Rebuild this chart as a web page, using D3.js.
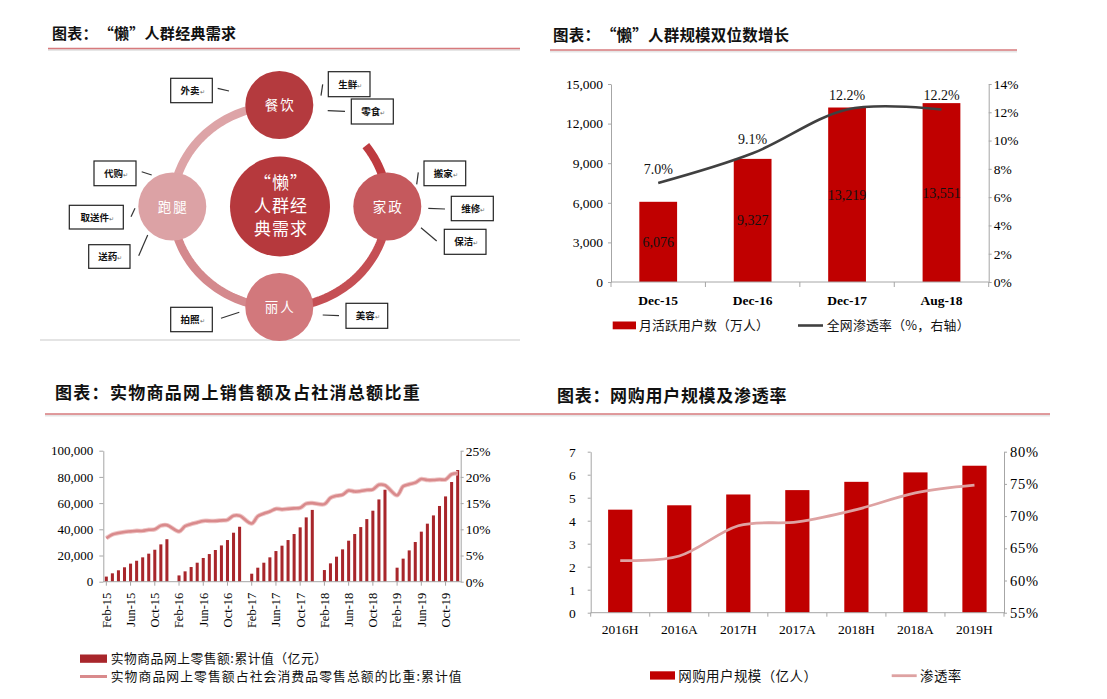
<!DOCTYPE html>
<html><head><meta charset="utf-8">
<script src="https://cdn.jsdelivr.net/npm/d3@7"></script>
<style>body{margin:0;background:#fff}svg{display:block}</style>
</head><body>
<script>
// ================= DATA =================
const panelTitles = ["图表：", "“懒”人群经典需求", "图表：", "“懒”人群规模双位数增长", "图表：实物商品网上销售额及占社消总额比重", "图表：网购用户规模及渗透率"];

// Panel 1: diagram
const demandCenter = ["“懒”", "人群经", "典需求"];
const demandHubs = ["餐饮", "家政", "丽人", "跑腿"];
const demandItems = ["外卖", "生鲜", "零食", "搬家", "维修", "保洁", "美容", "拍照", "代购", "取送件", "送药"];

// Panel 2: lazy-economy users
const mauCats = ["Dec-15", "Dec-16", "Dec-17", "Aug-18"];
const mauUsers = [6076, 9327, 13219, 13551];
const mauPenetration = [0.070, 0.091, 0.122, 0.122];
const mauLeftTicks = [0, 3000, 6000, 9000, 12000, 15000];
const mauRightTicks = [0, 0.02, 0.04, 0.06, 0.08, 0.10, 0.12, 0.14];
const mauLegend = ["月活跃用户数（万人）", "全网渗透率（%，右轴）"];

// Panel 3: online retail of physical goods (cumulative, 亿元) Feb..Dec each year
const salesYears = ["15", "16", "17", "18", "19"];
const salesMonthNames = ["Feb", "Mar", "Apr", "May", "Jun", "Jul", "Aug", "Sep", "Oct", "Nov", "Dec"];
const sales2015 = [3900, 6400, 8700, 11000, 13800, 16000, 18600, 21400, 24400, 28500, 32424];
const sales2016 = [4800, 7900, 11200, 14500, 18100, 21100, 24200, 27700, 31800, 37400, 41944];
const sales2017 = [6100, 10700, 14500, 18600, 23400, 27500, 31800, 36400, 41500, 49100, 54806];
const sales2018 = [8900, 14000, 19100, 24700, 31300, 36400, 41700, 47800, 54200, 62800, 70198];
const sales2019 = [10700, 17600, 23900, 30300, 38200, 44300, 50600, 57800, 65100, 76100, 85239];
const share2015 = [0.083, 0.090, 0.093, 0.095, 0.096, 0.097, 0.097, 0.099, 0.100, 0.107, 0.108];
const share2016 = [0.096, 0.106, 0.110, 0.113, 0.116, 0.116, 0.116, 0.117, 0.118, 0.126, 0.126];
const share2017 = [0.111, 0.125, 0.130, 0.134, 0.139, 0.138, 0.139, 0.140, 0.141, 0.149, 0.150];
const share2018 = [0.148, 0.160, 0.164, 0.166, 0.174, 0.172, 0.173, 0.175, 0.176, 0.185, 0.184];
const share2019 = [0.165, 0.182, 0.186, 0.189, 0.196, 0.194, 0.194, 0.195, 0.195, 0.205, 0.207];
const salesTickLabels = ["Feb-15", "Jun-15", "Oct-15", "Feb-16", "Jun-16", "Oct-16", "Feb-17", "Jun-17", "Oct-17", "Feb-18", "Jun-18", "Oct-18", "Feb-19", "Jun-19", "Oct-19"];
const salesLeftTicks = [0, 20000, 40000, 60000, 80000, 100000];
const salesRightTicks = [0, 0.05, 0.10, 0.15, 0.20, 0.25];
const salesLegend = ["实物商品网上零售额:累计值（亿元）", "实物商品网上零售额占社会消费品零售总额的比重:累计值"];

// Panel 4: online shopping users
const shopCats = ["2016H", "2016A", "2017H", "2017A", "2018H", "2018A", "2019H"];
const shopUsers = [4.48, 4.67, 5.14, 5.33, 5.69, 6.10, 6.39];
const shopPenetration = [0.631, 0.638, 0.685, 0.691, 0.710, 0.736, 0.748];
const shopLeftTicks = [0, 1, 2, 3, 4, 5, 6, 7];
const shopRightTicks = [0.55, 0.60, 0.65, 0.70, 0.75, 0.80];
const shopLegend = ["网购用户规模（亿人）", "渗透率"];

// ================= LAYOUT / STYLE =================
const CJK = '"Noto Sans CJK SC", "Noto Sans", sans-serif';
const SERIF = '"Liberation Serif", "DejaVu Serif", serif';
const AXIS = '#a6a6a6';
const RED = '#c00000';

const svg = d3.select('body').append('svg').attr('width', 1107).attr('height', 699)
  .style('background', '#fff');

// ---- titles ----
function title(x, y, parts, fs, ls) {
  const t = svg.append('text').attr('x', x).attr('y', y).attr('font-family', CJK)
    .attr('font-weight', 700).attr('font-size', fs).attr('fill', '#111').attr('letter-spacing', ls);
  parts.forEach((p, i) => t.append('tspan').attr('dx', i ? fs * 0.55 : 0).text(p));
}
title(52, 39, [panelTitles[0], panelTitles[1]], 15, 0.3);
title(553, 40.5, [panelTitles[2], panelTitles[3]], 15.5, 0.2);
title(55, 399, [panelTitles[4]], 17, 1.3);
title(557, 402, [panelTitles[5]], 17, 0.7);

function rule(x1, x2, y) {
  svg.append('line').attr('x1', x1).attr('x2', x2).attr('y1', y + 1.5).attr('y2', y + 1.5)
    .attr('stroke', '#e6e6e6').attr('stroke-width', 2);
  svg.append('line').attr('x1', x1).attr('x2', x2).attr('y1', y).attr('y2', y)
    .attr('stroke', '#d77a7c').attr('stroke-width', 1.5);
}
rule(48, 520, 48.5);
rule(550, 1017, 50);
rule(45, 1050, 414);

function styleAxis(g, fs, weight) {
  g.select('.domain').attr('stroke', AXIS).attr('stroke-width', 1);
  g.selectAll('.tick line').attr('stroke', AXIS);
  g.selectAll('text').attr('font-family', SERIF).attr('font-size', fs).attr('fill', '#000')
    .attr('font-weight', weight || 400);
}

// ================= PANEL 1: diagram =================
(function () {
  const cx = 280, cy = 206.5, rx = 107.5, ry = 101;
  const g = svg.append('g');
  g.append('line').attr('x1', 40).attr('x2', 520).attr('y1', 340).attr('y2', 340)
    .attr('stroke', '#e4e4e4').attr('stroke-width', 2);
  const arcPts = (a0, a1) => d3.range(0, 61).map(i => {
    const t = (a0 + (a1 - a0) * i / 60) * Math.PI / 180;
    return [cx + rx * Math.sin(t), cy - ry * Math.cos(t)];
  });
  const line = d3.line();
  const arcs = [[-90, 0, '#dda4a7'], [180, 270, '#d4898d'], [53, 92, '#be3b40'], [92, 180, '#c54f54']];
  arcs.forEach(a => g.append('path').attr('d', line(arcPts(a[0], a[1]))).attr('fill', 'none')
    .attr('stroke', a[2]).attr('stroke-width', 8.5));

  g.append('circle').attr('cx', cx).attr('cy', cy).attr('r', 50).attr('fill', '#b6393d');
  const ct = g.append('text').attr('font-family', CJK).attr('font-size', 17).attr('fill', '#fff')
    .attr('text-anchor', 'middle').attr('letter-spacing', 1);
  demandCenter.forEach((s, i) => ct.append('tspan').attr('x', cx + 1).attr('y', 189 + i * 23).text(s));

  const hubPos = [[279.3, 105], [387.3, 206.5], [279.3, 307], [172.3, 206.5]];
  const hubFill = ['#b43a3e', '#c5595d', '#d2787c', '#dca2a5'];
  demandHubs.forEach((h, i) => {
    g.append('circle').attr('cx', hubPos[i][0]).attr('cy', hubPos[i][1]).attr('r', 34).attr('fill', hubFill[i]);
    g.append('text').attr('x', hubPos[i][0] + 1).attr('y', hubPos[i][1] + 5).attr('text-anchor', 'middle')
      .attr('font-family', CJK).attr('font-size', 13.5).attr('letter-spacing', 2).attr('fill', '#fff').text(h);
  });

  const boxLayout = [
    [170.7, 78.3, 41.6, 24.4, 217.7, 88.3, 229, 91],
    [328.3, 71.7, 41.7, 25, 322.7, 84.3, 321, 95.7],
    [351.3, 99, 42, 25, 327.7, 110.7, 345, 111.3],
    [424, 161, 41.7, 24.7, 418.3, 172.3, 416.7, 184.3],
    [451.3, 196.3, 42, 24.4, 428.3, 208.3, 445, 209],
    [444.3, 229.3, 41.7, 25, 421, 227.7, 436.7, 241],
    [346, 303.3, 41.7, 25, 322.7, 315, 339, 315.7],
    [170.7, 307.3, 41.6, 24.4, 221, 318.3, 239.3, 312.3],
    [94, 161, 42, 24.7, 141.7, 171.7, 151.7, 175],
    [69.3, 205.3, 54, 23.7, 135, 208.3, 131, 216.7],
    [88.7, 244.7, 41.3, 23.6, 147.7, 235, 138.7, 255.7]
  ];
  demandItems.forEach((s, i) => {
    const b = boxLayout[i];
    g.append('rect').attr('x', b[0]).attr('y', b[1]).attr('width', b[2]).attr('height', b[3])
      .attr('fill', '#fff').attr('stroke', '#222').attr('stroke-width', 1.2);
    g.append('line').attr('x1', b[4]).attr('y1', b[5]).attr('x2', b[6]).attr('y2', b[7])
      .attr('stroke', '#333').attr('stroke-width', 1.2);
    const t = g.append('text').attr('x', b[0] + b[2] / 2 + 1).attr('y', b[1] + b[3] / 2 + 3.5)
      .attr('text-anchor', 'middle').attr('font-family', CJK).attr('font-weight', 700)
      .attr('font-size', 9.5).attr('fill', '#111');
    t.append('tspan').text(s);
    t.append('tspan').attr('font-size', 6).attr('font-weight', 400).attr('fill', '#666').text('↵');
  });
})();

// ================= PANEL 2 =================
(function () {
  const L = 611, R = 988.7, T = 84, B = 282;
  const x = d3.scaleBand().domain(mauCats).range([L, R]).paddingInner(0.6).paddingOuter(0.3);
  const yL = d3.scaleLinear().domain([0, 15000]).range([B, T]);
  const yR = d3.scaleLinear().domain([0, 0.14]).range([B, T]);
  const g = svg.append('g');

  g.selectAll('rect.bar').data(mauCats).join('rect').attr('class', 'bar')
    .attr('x', d => x(d)).attr('width', x.bandwidth())
    .attr('y', (d, i) => yL(mauUsers[i])).attr('height', (d, i) => B - yL(mauUsers[i]))
    .attr('fill', RED);

  const ga = g.append('g').attr('transform', `translate(${L},0)`)
    .call(d3.axisLeft(yL).tickValues(mauLeftTicks).tickFormat(d3.format(',')).tickSize(3).tickSizeOuter(0).tickPadding(5));
  styleAxis(ga, 13.5);
  const gr = g.append('g').attr('transform', `translate(${R},0)`)
    .call(d3.axisRight(yR).tickValues(mauRightTicks).tickFormat(d3.format('.0%')).tickSize(3).tickSizeOuter(0).tickPadding(2));
  styleAxis(gr, 13.5);
  const gx = g.append('g').attr('transform', `translate(0,${B})`)
    .call(d3.axisBottom(x).tickSize(0).tickPadding(13).tickSizeOuter(0));
  styleAxis(gx, 13.5, 700);
  gx.select('.domain').attr('d', `M${L},0H${R}`);
  const bounds = mauCats.map(c => x(c) - x.step() * 0.3).concat([R]);
  g.selectAll('line.xt').data(bounds).join('line').attr('x1', d => d).attr('x2', d => d)
    .attr('y1', B).attr('y2', B + 5).attr('stroke', AXIS);

  const cx = (d) => x(d) + x.bandwidth() / 2;
  g.selectAll('text.bl').data(mauCats).join('text')
    .attr('x', d => cx(d)).attr('y', (d, i) => (B + yL(mauUsers[i])) / 2 + 5)
    .attr('text-anchor', 'middle').attr('font-family', SERIF).attr('font-size', 14).attr('fill', '#111')
    .text((d, i) => d3.format(',')(mauUsers[i]));

  const ln = d3.line().x((d, i) => cx(mauCats[i])).y(d => yR(d)).curve(d3.curveCardinal.tension(0));
  g.append('path').attr('d', ln(mauPenetration)).attr('fill', 'none').attr('stroke', '#404040').attr('stroke-width', 2.6);
  g.selectAll('text.pl').data(mauCats).join('text')
    .attr('x', d => cx(d)).attr('y', (d, i) => yR(mauPenetration[i]) - 9)
    .attr('text-anchor', 'middle').attr('font-family', SERIF).attr('font-size', 14).attr('fill', '#111')
    .text((d, i) => d3.format('.1%')(mauPenetration[i]));

  g.append('rect').attr('x', 612.7).attr('y', 321.5).attr('width', 23.3).attr('height', 7.8).attr('fill', RED);
  g.append('text').attr('x', 639).attr('y', 330).attr('font-family', CJK).attr('font-size', 12.8)
    .attr('fill', '#111').attr('letter-spacing', 0.2).text(mauLegend[0]);
  g.append('line').attr('x1', 798).attr('x2', 823).attr('y1', 325.5).attr('y2', 325.5)
    .attr('stroke', '#404040').attr('stroke-width', 2.6);
  g.append('text').attr('x', 826.7).attr('y', 330).attr('font-family', CJK).attr('font-size', 12.8)
    .attr('fill', '#111').attr('letter-spacing', 0.3).text(mauLegend[1]);
})();

// ================= PANEL 3 =================
(function () {
  const salesByYear = [sales2015, sales2016, sales2017, sales2018, sales2019];
  const shareByYear = [share2015, share2016, share2017, share2018, share2019];
  const rows = [];
  salesYears.forEach((yy, yi) => {
    salesMonthNames.forEach((m, mi) => rows.push({ cat: `${m}-${yy}`, v: salesByYear[yi][mi], s: shareByYear[yi][mi] }));
    if (yi < salesYears.length - 1) rows.push({ cat: `Jan-${salesYears[yi + 1]}`, v: null, s: null });
  });

  const L = 103.3, R = 460.7, T = 450.7, B = 581.7;
  const x = d3.scaleBand().domain(rows.map(r => r.cat)).range([L, R]).paddingInner(0.5).paddingOuter(0.25);
  const yL = d3.scaleLinear().domain([0, 100000]).range([B, T]);
  const yR = d3.scaleLinear().domain([0, 0.25]).range([B, T]);
  const g = svg.append('g');

  const ga = g.append('g').attr('transform', `translate(${L},0)`)
    .call(d3.axisLeft(yL).tickValues(salesLeftTicks).tickFormat(d3.format(',')).tickSize(4).tickSizeOuter(0).tickPadding(6));
  styleAxis(ga, 13);
  const gr = g.append('g').attr('transform', `translate(${R},0)`)
    .call(d3.axisRight(yR).tickValues(salesRightTicks).tickFormat(d3.format('.0%')).tickSize(3).tickSizeOuter(0).tickPadding(2));
  styleAxis(gr, 13.5);

  g.selectAll('rect.bar').data(rows.filter(r => r.v != null)).join('rect').attr('class', 'bar')
    .attr('x', d => x(d.cat)).attr('width', x.bandwidth())
    .attr('y', d => yL(d.v)).attr('height', d => B - yL(d.v))
    .attr('fill', '#a8262b');

  const gx = g.append('g').attr('transform', `translate(0,${B})`)
    .call(d3.axisBottom(x).tickValues(salesTickLabels).tickSize(4).tickSizeOuter(0));
  styleAxis(gx, 12.5);
  gx.select('.domain').attr('d', `M${L},0H${R}`);
  gx.selectAll('.tick text').attr('text-anchor', 'end').attr('transform', 'rotate(-90)')
    .attr('x', -11).attr('y', 0).attr('dy', '0.35em');

  const ln = d3.line().x(d => x(d.cat) + x.bandwidth() / 2).y(d => yR(d.s)).curve(d3.curveCatmullRom.alpha(0.5));
  const pts = rows.filter(r => r.s != null);
  g.append('path').attr('d', ln(pts)).attr('fill', 'none')
    .attr('stroke', '#efc6c6').attr('stroke-width', 4.5).attr('stroke-linejoin', 'round');
  g.append('path').attr('d', ln(pts)).attr('fill', 'none')
    .attr('stroke', '#d98a8c').attr('stroke-width', 2.6).attr('stroke-linejoin', 'round');

  g.append('rect').attr('x', 80).attr('y', 654.5).attr('width', 27).attr('height', 8.3).attr('fill', '#a8262b');
  g.append('text').attr('x', 110.7).attr('y', 662.5).attr('font-family', CJK).attr('font-size', 12.8)
    .attr('fill', '#111').attr('letter-spacing', 0.5).text(salesLegend[0]);
  g.append('line').attr('x1', 80).attr('x2', 107).attr('y1', 676.5).attr('y2', 676.5)
    .attr('stroke', '#d98a8c').attr('stroke-width', 3);
  g.append('text').attr('x', 110.7).attr('y', 681.3).attr('font-family', CJK).attr('font-size', 12.8)
    .attr('fill', '#111').attr('letter-spacing', 1.1).text(salesLegend[1]);
})();

// ================= PANEL 4 =================
(function () {
  const L = 590.7, R = 1004, T = 451.7, B = 612.7;
  const x = d3.scaleBand().domain(shopCats).range([L, R]).paddingInner(0.59).paddingOuter(0.295);
  const yL = d3.scaleLinear().domain([0, 7]).range([B, T]);
  const yR = d3.scaleLinear().domain([0.55, 0.80]).range([B, T]);
  const g = svg.append('g');

  g.selectAll('rect.bar').data(shopCats).join('rect').attr('class', 'bar')
    .attr('x', d => x(d)).attr('width', x.bandwidth())
    .attr('y', (d, i) => yL(shopUsers[i])).attr('height', (d, i) => B - yL(shopUsers[i]))
    .attr('fill', RED);

  const ga = g.append('g').attr('transform', `translate(${L},0)`)
    .call(d3.axisLeft(yL).tickValues(shopLeftTicks).tickFormat(d3.format('d')).tickSize(3).tickSizeOuter(0).tickPadding(12));
  styleAxis(ga, 13.5);
  const gr = g.append('g').attr('transform', `translate(${R},0)`)
    .call(d3.axisRight(yR).tickValues(shopRightTicks).tickFormat(d3.format('.0%')).tickSize(3).tickSizeOuter(0).tickPadding(3));
  styleAxis(gr, 14.5);
  gr.selectAll('text').attr('letter-spacing', 0.8);
  const gx = g.append('g').attr('transform', `translate(0,${B})`)
    .call(d3.axisBottom(x).tickSize(0).tickPadding(12).tickSizeOuter(0));
  styleAxis(gx, 13.5);
  gx.select('.domain').attr('d', `M${L},0H${R}`);
  const bounds = shopCats.map(c => x(c) - x.step() * 0.295).concat([R]);
  g.selectAll('line.xt').data(bounds).join('line').attr('x1', d => d).attr('x2', d => d)
    .attr('y1', B).attr('y2', B + 4).attr('stroke', AXIS);

  const ln = d3.line().x((d, i) => x(shopCats[i]) + x.bandwidth() / 2).y(d => yR(d)).curve(d3.curveCardinal.tension(0));
  g.append('path').attr('d', ln(shopPenetration)).attr('fill', 'none')
    .attr('stroke', '#dea2a2').attr('stroke-width', 2.8);

  g.append('rect').attr('x', 650).attr('y', 671.3).attr('width', 25).attr('height', 8.3).attr('fill', RED);
  g.append('text').attr('x', 678.3).attr('y', 680.7).attr('font-family', CJK).attr('font-size', 13.5)
    .attr('fill', '#111').attr('letter-spacing', 0.4).text(shopLegend[0]);
  g.append('line').attr('x1', 891.7).attr('x2', 916.7).attr('y1', 675.7).attr('y2', 675.7)
    .attr('stroke', '#dea2a2').attr('stroke-width', 2.8);
  g.append('text').attr('x', 920).attr('y', 680.7).attr('font-family', CJK).attr('font-size', 13.5)
    .attr('fill', '#111').attr('letter-spacing', 0.4).text(shopLegend[1]);
})();
</script>
</body></html>
